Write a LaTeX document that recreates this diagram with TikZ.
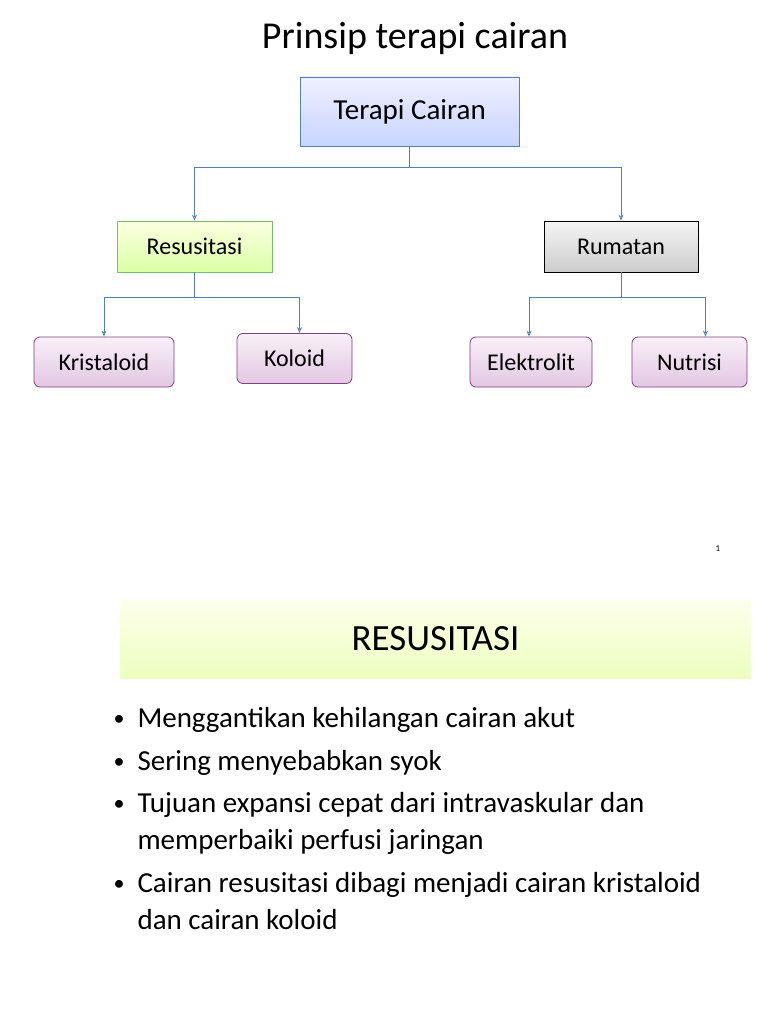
\documentclass[tikz,border=0pt]{standalone}
\usepackage{fontspec}
\usetikzlibrary{arrows.meta}
\setmainfont{Carlito}
\definecolor{cblue}{RGB}{79,129,189}
\begin{document}
\begin{tikzpicture}[x=1pt,y=-1pt,
  line/.style={draw=cblue,line width=0.7pt},
  conn/.style={line,-{Stealth[length=6pt,width=5pt,open]}},
  lbox/.style={draw=#1,line width=0.8pt,rounded corners=6pt,minimum height=50pt,font=\fontsize{24}{24}\selectfont},
]
\useasboundingbox (0,0) rectangle (768,1024);
\fill[white] (0,0) rectangle (768,1024);
\node (title) at (415,38) {\fontsize{38}{38}\selectfont Prinsip terapi cairan};
\node (tc) [draw=cblue,line width=0.8pt,top color=blue!6,bottom color=cyan!25!blue!22,minimum width=219pt,minimum height=69pt,font=\fontsize{29}{29}\selectfont] at (409.5,111.5) {Terapi Cairan};
\node (res) [draw=green!55!black!55,line width=0.8pt,top color=green!10!yellow!12,bottom color=green!40!yellow!35,minimum width=155pt,minimum height=51pt,font=\fontsize{24}{24}\selectfont] at (194.5,246.5) {Resusitasi};
\node (rum) [draw=black,line width=0.8pt,top color=gray!8,bottom color=gray!40,minimum width=154pt,minimum height=51pt,font=\fontsize{24}{24}\selectfont] at (621,246.5) {Rumatan};
\tikzset{pbox/.style={lbox=violet!50!gray,top color=violet!6,bottom color=violet!22}}
\node (kri) [pbox,minimum width=140pt] at (104,362) {Kristaloid};
\node (kol) [pbox,minimum width=115pt] at (294.5,358.5) {Koloid};
\node (ele) [pbox,minimum width=122pt] at (531,362) {Elektrolit};
\node (nut) [pbox,minimum width=115pt] at (689.5,362) {Nutrisi};
\coordinate (j1) at (409.5,167);
\coordinate (j2) at (194.5,297);
\coordinate (j3) at (621,297);
\draw[line] (tc.south) -- (j1);
\draw[conn] (j1) -| (res.north);
\draw[conn] (j1) -| (rum.north);
\draw[line] (res.south) -- (j2);
\draw[conn] (j2) -| (kri.north);
\draw[conn] (j2) -| ([xshift=5pt]kol.north);
\draw[line] (rum.south) -- (j3);
\draw[conn] (j3) -| ([xshift=-2pt]ele.north);
\draw[conn] (j3) -| ([xshift=16pt]nut.north);
\node (pg) at (718,549) {\fontsize{9}{9}\selectfont 1};
\node (ban) [top color=green!8!yellow!8,bottom color=green!30!yellow!25,minimum width=631pt,minimum height=78pt,font=\fontsize{37}{37}\selectfont] at (435.5,639) {RESUSITASI};
\begin{scope}[every node/.style={anchor=west,font=\fontsize{29}{29}\selectfont}]
\node (b1d) at (110,720) {\fontsize{22}{22}\selectfont •}; \node (b1) at (134,720) {Menggantikan kehilangan cairan akut};
\node (b2d) at (110,763) {\fontsize{22}{22}\selectfont •}; \node (b2) at (134,763) {Sering menyebabkan syok};
\node (b3d) at (110,805) {\fontsize{22}{22}\selectfont •}; \node (b3) at (134,805) {Tujuan expansi cepat dari intravaskular dan};
\node (b3b) at (134,842) {memperbaiki perfusi jaringan};
\node (b4d) at (110,885) {\fontsize{22}{22}\selectfont •}; \node (b4) at (134,885) {Cairan resusitasi dibagi menjadi cairan kristaloid};
\node (b4b) at (134,920) {dan cairan koloid};
\end{scope}
\end{tikzpicture}
\end{document}
